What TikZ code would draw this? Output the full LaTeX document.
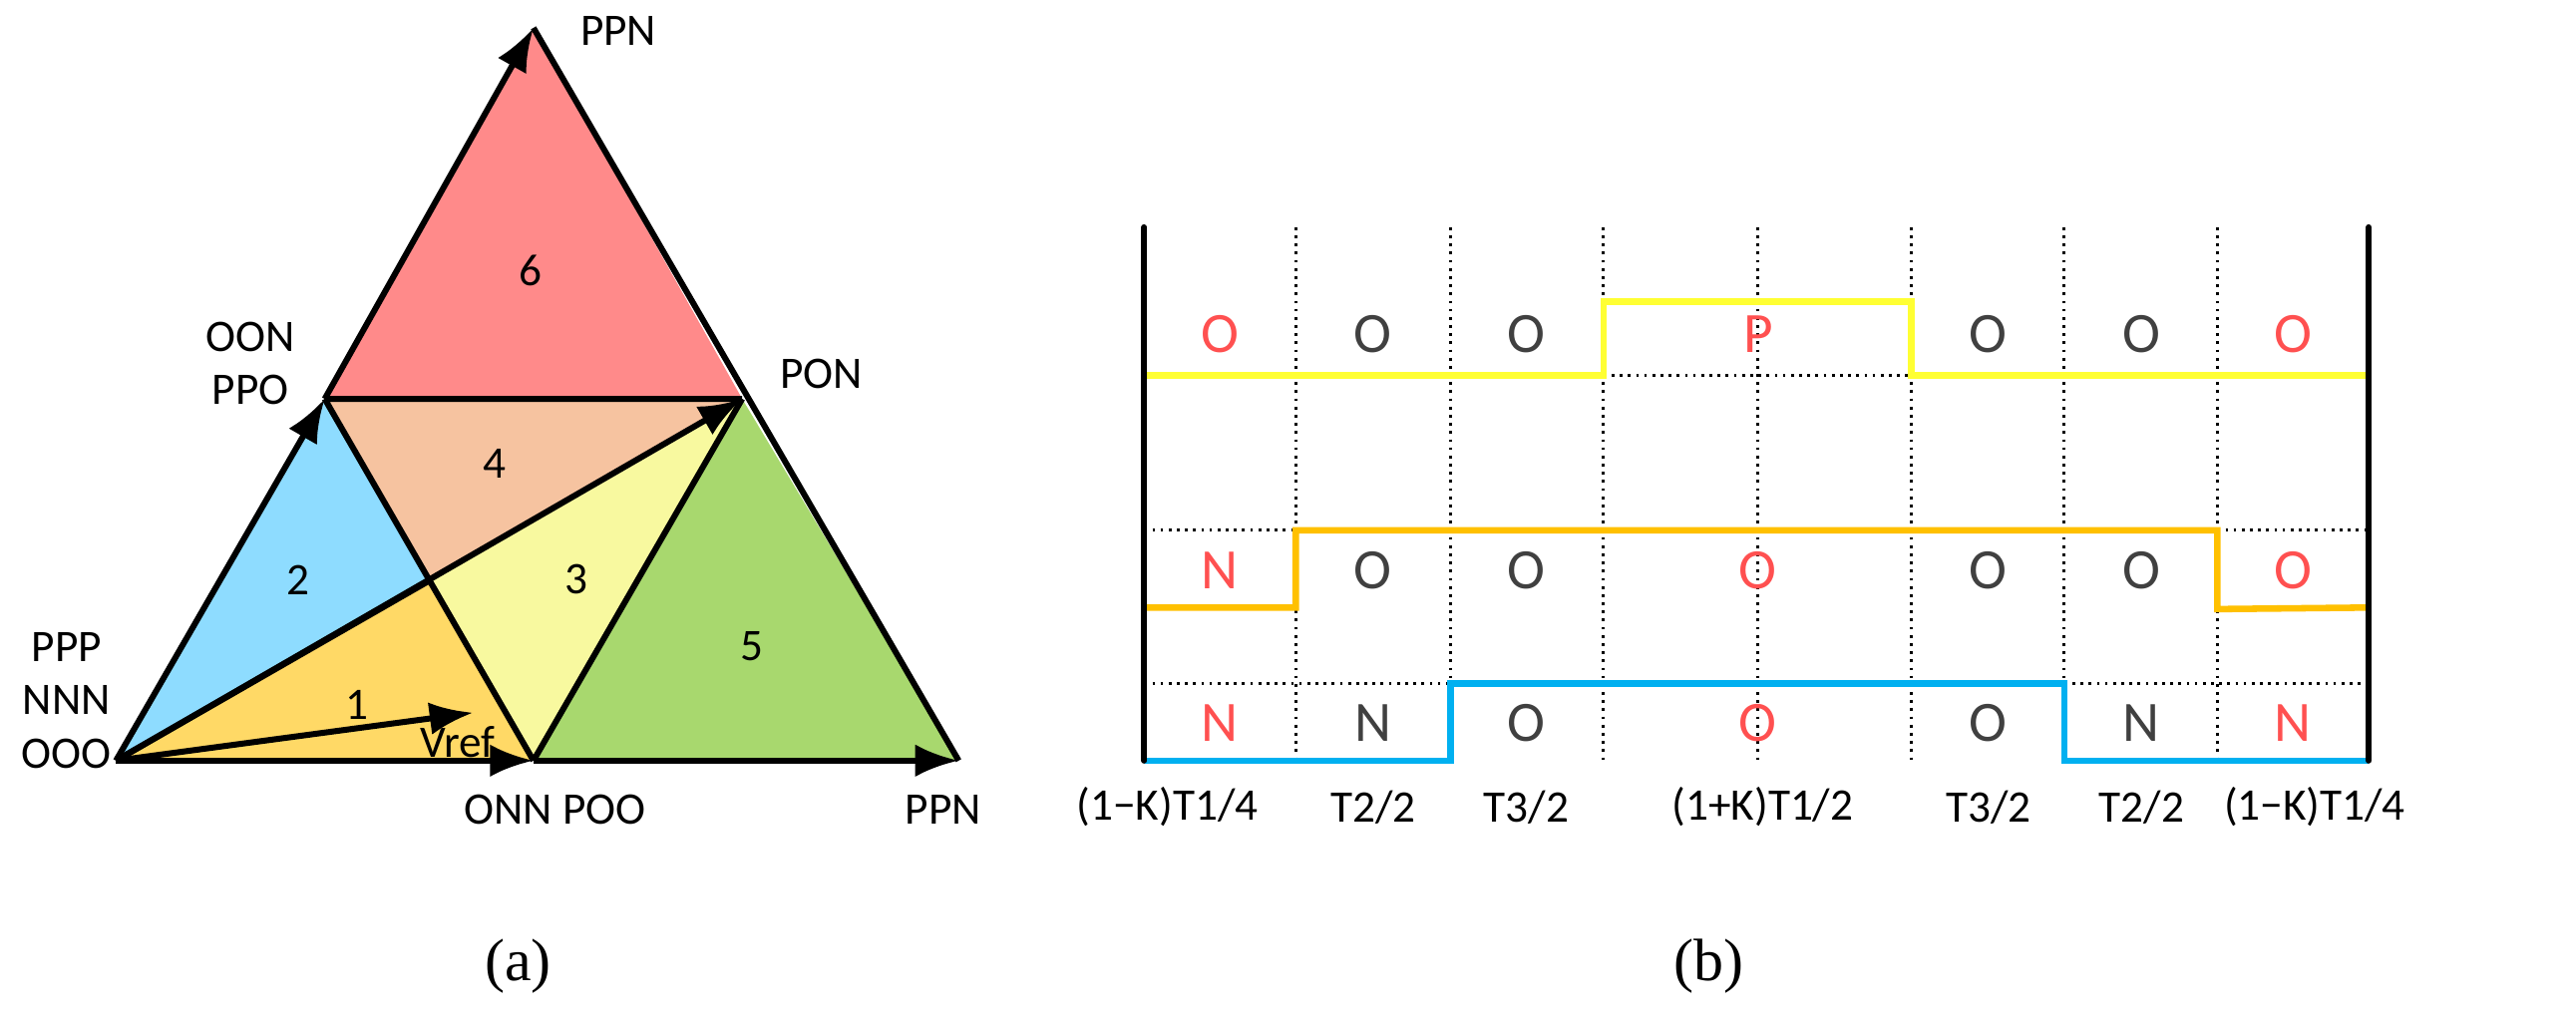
\documentclass[tikz,border=0pt]{standalone}
\usepackage{fontspec}
\setmainfont{Carlito}
\newfontfamily\capfont{Liberation Serif}
\usetikzlibrary{arrows.meta}
\definecolor{cr}{HTML}{FF8A8A}
\definecolor{cp}{HTML}{F6C3A0}
\definecolor{cb}{HTML}{8EDCFF}
\definecolor{co}{HTML}{FFD966}
\definecolor{cy}{HTML}{F8F99F}
\definecolor{cg}{HTML}{A8D86E}
\definecolor{lred}{HTML}{FF5050}
\definecolor{lgray}{HTML}{404040}
\definecolor{ylw}{HTML}{FFFF33}
\definecolor{org}{HTML}{FFC000}
\definecolor{blu}{HTML}{00B0F0}
\begin{document}
\begin{tikzpicture}[x=0.01cm,y=-0.01cm,
  edge/.style={line width=1.1pt,line join=round},
  vec/.style={line width=1.1pt,-{Latex[length=8pt,width=6pt]}},
  lab/.style={font=\fontsize{8.3}{9.8}\selectfont,align=center,inner sep=1pt},
  num/.style={font=\fontsize{8.3}{9.8}\selectfont,inner sep=1pt},
  st/.style={font=\fontsize{10.5}{12}\selectfont,text=lgray,inner sep=1pt},
  sr/.style={st,text=lred},
  dt/.style={densely dotted,line width=0.5pt},
  captxt/.style={font=\capfont\fontsize{11}{12}\selectfont}]
\useasboundingbox (0,0) rectangle (1666,666);
\coordinate (A) at (75,492);
\coordinate (T) at (345,18);
\coordinate (R) at (620,492);
\coordinate (L) at (210,258);
\coordinate (M) at (480,258);
\coordinate (B) at (345,492);
\coordinate (C) at (277,376);
\coordinate (V) at (306,461);
\fill[cr] (L)--(T)--(M)--cycle;
\fill[cp] (L)--(M)--(C)--cycle;
\fill[cb] (A)--(L)--(C)--cycle;
\fill[co] (A)--(C)--(B)--cycle;
\fill[cy] (C)--(M)--(B)--cycle;
\fill[cg] (B)--(M)--(R)--cycle;
\draw[edge] (L)--(M) (L)--(B) (A)--(C) (B)--(M) (T)--(R);
\draw[vec] (A)--(L);
\draw[vec] (L)--(T);
\draw[vec] (A)--(B);
\draw[vec] (B)--(R);
\draw[vec] (A)--(M);
\draw[vec] (A)--(V);
\node[num] (n6) at (343,175) {6};
\node[num] (n4) at (320,300) {4};
\node[num] (n2) at (193,375) {2};
\node[num] (n3) at (373,375) {3};
\node[num] (n5) at (486,418) {5};
\node[num] (n1) at (231,456) {1};
\node[lab] (vr) at (296,480) {Vref};
\node[lab] (l1) at (400,20) {PPN};
\node[lab] (l2) at (162,235) {OON\\PPO};
\node[lab] (l3) at (531,242) {PON};
\node[lab] (l4) at (43,453) {PPP\\NNN\\OOO};
\node[lab] (l5) at (359,524) {ONN POO};
\node[lab] (l6) at (610,524) {PPN};
\node[captxt] (ca) at (335,625) {(a)};
% right
\foreach \x in {838,938,1037,1137,1236,1335,1434} \draw[dt] (\x,147)--(\x,492);
\draw[dt] (1037,243)--(1236,243);
\draw[dt] (740,343)--(838,343) (1434,343)--(1532,343);
\draw[dt] (740,442)--(938,442) (1335,442)--(1532,442);
\draw[ylw,line width=1.2pt] (740,243)--(1037,243)--(1037,195)--(1236,195)--(1236,243)--(1532,243);
\draw[org,line width=1.2pt] (740,393)--(838,393)--(838,343)--(1434,343)--(1434,394)--(1532,393);
\draw[blu,line width=1.2pt] (740,492)--(938,492)--(938,442)--(1335,442)--(1335,492)--(1532,492);
\draw[line width=1.1pt,line cap=round] (740,147)--(740,492) (1532,147)--(1532,492);
\foreach \x/\s/\a/\b/\c in {789/sr/O/N/N, 888/st/O/O/N, 987/st/O/O/O, 1137/sr/P/O/O, 1286/st/O/O/O, 1385/st/O/O/N, 1483/sr/O/O/N}{
  \node[\s] at (\x,216) {\a};
  \node[\s] at (\x,369) {\b};
  \node[\s] at (\x,468) {\c};}
\node[lab] (b1) at (755,522) {(1−K)T1/4};
\node[lab] (b2) at (888,522) {T2/2};
\node[lab] (b3) at (987,522) {T3/2};
\node[lab] (b4) at (1140,522) {(1+K)T1/2};
\node[lab] (b5) at (1286,522) {T3/2};
\node[lab] (b6) at (1385,522) {T2/2};
\node[lab] (b7) at (1497,522) {(1−K)T1/4};
\node[captxt] (cb2) at (1105,625) {(b)};
\end{tikzpicture}
\end{document}
